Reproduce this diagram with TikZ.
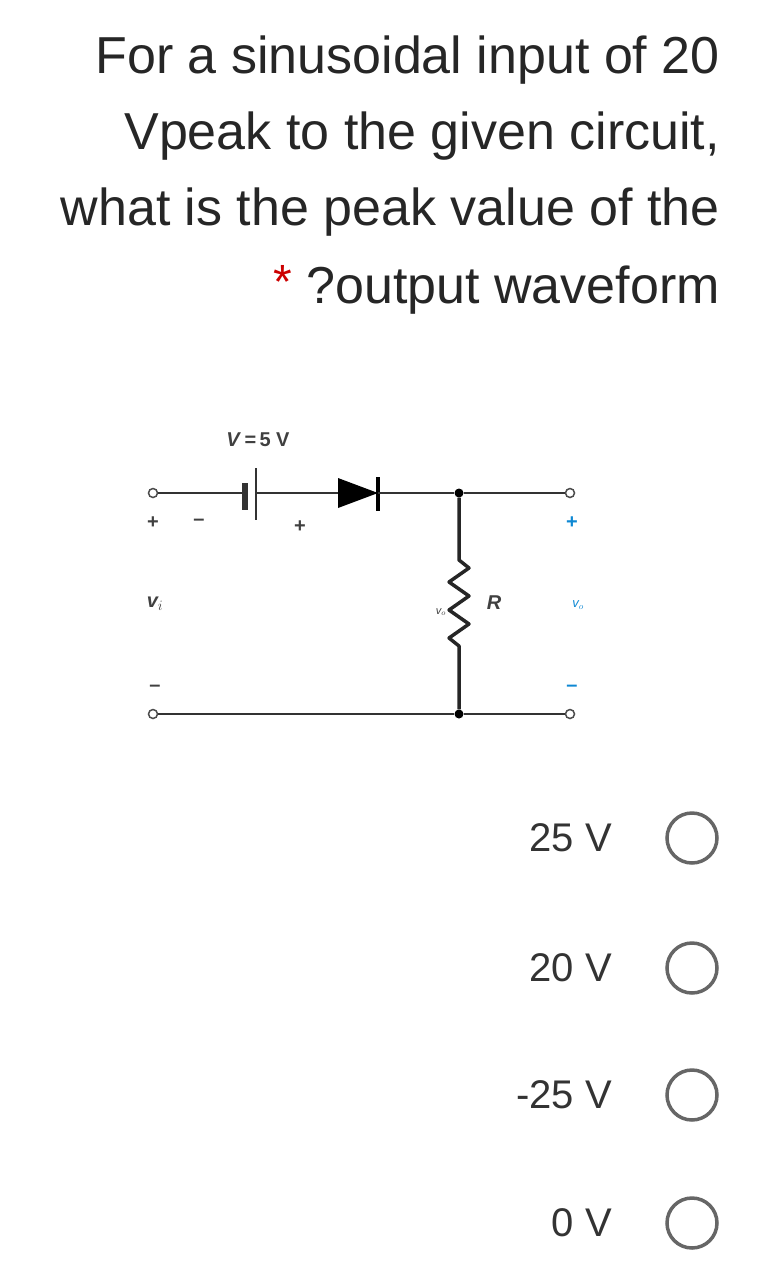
\documentclass[tikz,border=0pt]{standalone}
\usepackage{fontspec}
\setmainfont{Liberation Sans}
\begin{document}
\begin{tikzpicture}[x=1pt,y=-1pt,
  q/.style={anchor=east,font=\fontsize{52}{58}\selectfont,text=black!85,inner sep=0},
  opt/.style={anchor=east,font=\fontsize{40}{44}\selectfont,text=black!80,inner sep=0},
  radio/.style={circle,draw=black!60,line width=3.5pt,minimum size=50pt,inner sep=0},
  wire/.style={line width=2.5pt,black!80},
  term/.style={circle,draw=black!70,fill=white,line width=1.5pt,minimum size=9pt,inner sep=0},
  dot/.style={circle,fill=black,minimum size=9pt,inner sep=0},
  lab/.style={font=\bfseries\fontsize{20}{22}\selectfont,text=black!75,inner sep=0},
  blab/.style={font=\bfseries\fontsize{20}{22}\selectfont,text=cyan!70!blue,inner sep=0}]
\useasboundingbox (0,0) rectangle (781,1280);
\node[q] (l1) at (720,60) {For a sinusoidal input of 20};
\node[q] (l2) at (720,136) {Vpeak to the given circuit,};
\node[q] (l3) at (720,212) {what is the peak value of the};
\node[q] (l4) at (720,290) {?output waveform};
\node[anchor=east,inner sep=0,text=red!80!black,font=\fontsize{48}{50}\selectfont] (star) at ([xshift=-14pt,yshift=8pt]l4.west) {*};
% circuit
\node[term] (ti) at (153,493) {};
\node[term] (tib) at (153,714) {};
\node[term] (to) at (570,493) {};
\node[term] (tob) at (570,714) {};
\node[dot] (nt) at (459,493) {};
\node[dot] (nb) at (459,714) {};
\coordinate (bs) at (245,493);
\coordinate (bl) at (256,493);
\coordinate (da) at (338,493);
\coordinate (dk) at (378,493);
\coordinate (rt) at (459,560);
\coordinate (rb) at (459,652);
\draw[wire] (ti) -- (bs);
\draw[line width=6pt,black!80] (245,483) -- (245,510);
\draw[line width=2.5pt,black!80] (256,468) -- (256,520);
\draw[wire] (bl) -- (da);
\fill[black] (da) ++(0,-15) -- ++(0,30) -- (dk) -- cycle;
\draw[line width=3.5pt,black] (378,477) -- (378,511);
\draw[wire] (dk) -- (nt) -- (to);
\draw[wire] (tib) -- (nb) -- (tob);
\draw[line width=3.5pt,black!85,line join=round] (nt) -- (rt) -- ++(10,8) -- ++(-20,14) -- ++(20,14) -- ++(-20,14) -- ++(20,14) -- ++(-20,14) -- ++(10,8) -- (rb) -- (nb);
\node[lab] (vlab) at (258,440) {\textit{V}\,=\,5 V};
\node[lab] (p1) at (153,523) {+};
\node[lab] (m1) at (199,522) {--};
\node[lab] (p2) at (300,527) {+};
\node[lab] (vi) at (155,604) {\textit{v$_i$}};
\node[lab] (m2) at (155,688) {--};
\node[lab] (R) at (494,603) {\textit{R}};
\node[lab,font=\fontsize{11}{12}\selectfont] (vr) at (441,612) {\textit{v$_o$}};
\node[blab] (p3) at (572,523) {+};
\node[blab,font=\fontsize{13}{14}\selectfont] (vo) at (578,605) {\textit{v$_o$}};
\node[blab] (m3) at (572,688) {--};
% options
\foreach \t/\y/\n in {25 V/838/a,20 V/968/b,-25 V/1095/c,0 V/1223/d}{
  \node[opt] (o\n) at (612,\y) {\t};
  \node[radio] (r\n) at (692,\y) {};
}
\end{tikzpicture}
\end{document}
